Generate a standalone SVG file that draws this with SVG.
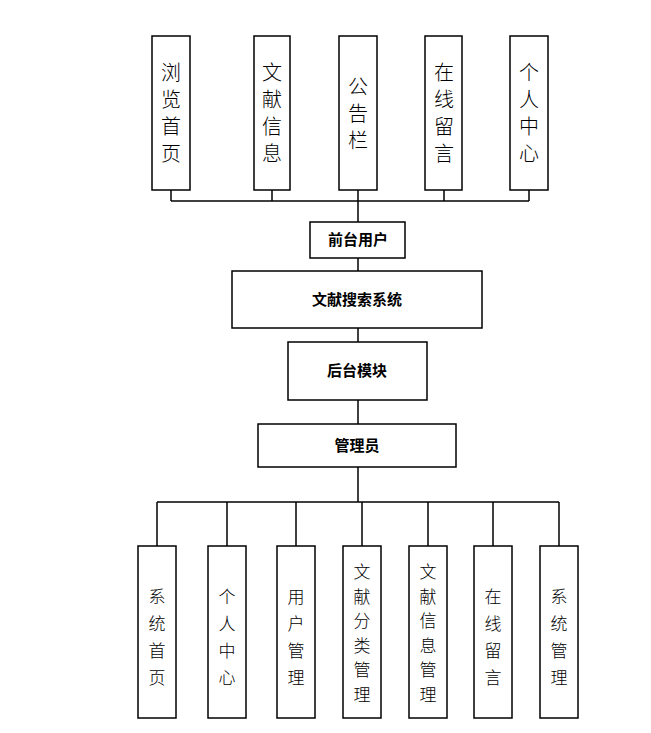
<svg xmlns="http://www.w3.org/2000/svg" width="651" height="733" viewBox="0 0 651 733">
<style>
rect{fill:#fff;stroke:#000;stroke-width:1.5}
.c line{stroke:#000;stroke-width:1.5}
.t{font-family:"Noto Sans CJK SC","Noto Sans",sans-serif;font-size:20px;text-anchor:middle;font-weight:300}
.b{font-family:"Noto Sans CJK SC","Noto Sans",sans-serif;font-size:17px;text-anchor:middle;font-weight:300}
.m{font-family:"Noto Sans CJK SC","Noto Sans",sans-serif;font-size:15px;text-anchor:middle;font-weight:bold}
</style>
<rect x="0" y="0" width="651" height="733" style="stroke:none"/>
<g class="c">
<line x1="171" y1="190" x2="171" y2="201"/><line x1="272" y1="190" x2="272" y2="201"/><line x1="358" y1="190" x2="358" y2="222"/><line x1="444" y1="190" x2="444" y2="201"/><line x1="529" y1="190" x2="529" y2="201"/>
<line x1="171" y1="201" x2="529" y2="201"/>
<line x1="358" y1="258" x2="358" y2="271"/><line x1="358" y1="328" x2="358" y2="342"/><line x1="358" y1="400" x2="358" y2="424"/><line x1="358" y1="467" x2="358" y2="502"/>
<line x1="157" y1="502" x2="559" y2="502"/>
<line x1="157" y1="502" x2="157" y2="546"/><line x1="227" y1="502" x2="227" y2="546"/><line x1="296" y1="502" x2="296" y2="546"/><line x1="362" y1="502" x2="362" y2="546"/><line x1="428" y1="502" x2="428" y2="546"/><line x1="493" y1="502" x2="493" y2="546"/><line x1="559" y1="502" x2="559" y2="546"/>
</g>
<g id="n1"><rect x="152" y="36" width="38" height="154"/><text class="t"><tspan x="171" y="80">浏</tspan><tspan x="171" y="107">览</tspan><tspan x="171" y="134">首</tspan><tspan x="171" y="161">页</tspan></text></g>
<g id="n2"><rect x="254" y="36" width="36" height="154"/><text class="t"><tspan x="272" y="80">文</tspan><tspan x="272" y="107">献</tspan><tspan x="272" y="134">信</tspan><tspan x="272" y="161">息</tspan></text></g>
<g id="n3"><rect x="339" y="36" width="38" height="154"/><text class="t"><tspan x="358" y="94">公</tspan><tspan x="358" y="121">告</tspan><tspan x="358" y="148">栏</tspan></text></g>
<g id="n4"><rect x="425" y="36" width="37" height="154"/><text class="t"><tspan x="444" y="80">在</tspan><tspan x="444" y="107">线</tspan><tspan x="444" y="134">留</tspan><tspan x="444" y="161">言</tspan></text></g>
<g id="n5"><rect x="510" y="36" width="38" height="154"/><text class="t"><tspan x="529" y="80">个</tspan><tspan x="529" y="107">人</tspan><tspan x="529" y="134">中</tspan><tspan x="529" y="161">心</tspan></text></g>
<g id="qt"><rect x="310" y="222" width="95" height="36"/><text class="m" x="358" y="245">前台用户</text></g>
<g id="ss"><rect x="232" y="271" width="250" height="57"/><text class="m" x="357" y="305">文献搜索系统</text></g>
<g id="ht"><rect x="288" y="342" width="139" height="58"/><text class="m" x="357" y="376">后台模块</text></g>
<g id="gl"><rect x="258" y="424" width="198" height="43"/><text class="m" x="357" y="451">管理员</text></g>
<g id="b1"><rect x="138" y="546" width="38" height="172"/><text class="b"><tspan x="157" y="603">系</tspan><tspan x="157" y="630">统</tspan><tspan x="157" y="657">首</tspan><tspan x="157" y="684">页</tspan></text></g>
<g id="b2"><rect x="208" y="546" width="38" height="172"/><text class="b"><tspan x="227" y="603">个</tspan><tspan x="227" y="630">人</tspan><tspan x="227" y="657">中</tspan><tspan x="227" y="684">心</tspan></text></g>
<g id="b3"><rect x="277" y="546" width="38" height="172"/><text class="b"><tspan x="296" y="603">用</tspan><tspan x="296" y="630">户</tspan><tspan x="296" y="657">管</tspan><tspan x="296" y="684">理</tspan></text></g>
<g id="b4"><rect x="343" y="546" width="38" height="172"/><text class="b"><tspan x="362" y="578">文</tspan><tspan x="362" y="602.5">献</tspan><tspan x="362" y="627">分</tspan><tspan x="362" y="651.5">类</tspan><tspan x="362" y="676">管</tspan><tspan x="362" y="700.5">理</tspan></text></g>
<g id="b5"><rect x="409" y="546" width="38" height="172"/><text class="b"><tspan x="428" y="578">文</tspan><tspan x="428" y="602.5">献</tspan><tspan x="428" y="627">信</tspan><tspan x="428" y="651.5">息</tspan><tspan x="428" y="676">管</tspan><tspan x="428" y="700.5">理</tspan></text></g>
<g id="b6"><rect x="474" y="546" width="38" height="172"/><text class="b"><tspan x="493" y="603">在</tspan><tspan x="493" y="630">线</tspan><tspan x="493" y="657">留</tspan><tspan x="493" y="684">言</tspan></text></g>
<g id="b7"><rect x="540" y="546" width="38" height="172"/><text class="b"><tspan x="559" y="603">系</tspan><tspan x="559" y="630">统</tspan><tspan x="559" y="657">管</tspan><tspan x="559" y="684">理</tspan></text></g>
</svg>
